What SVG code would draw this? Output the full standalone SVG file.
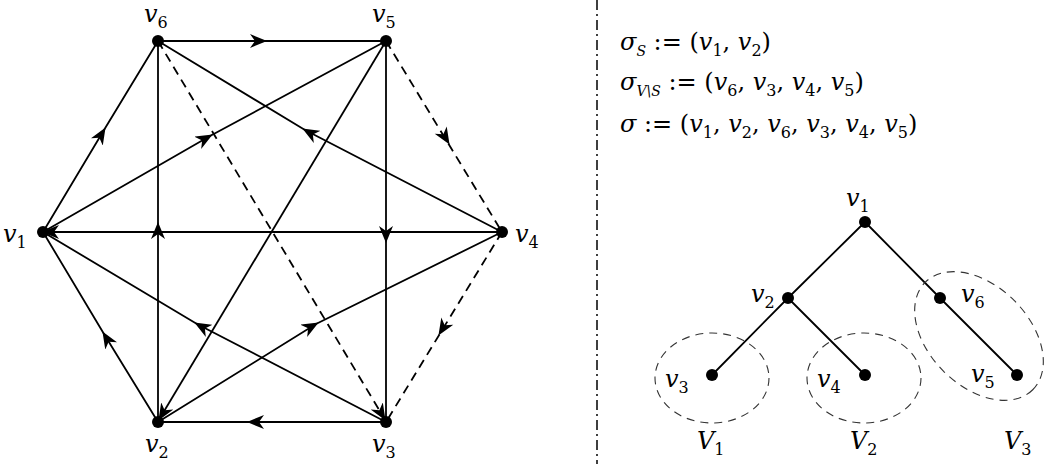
<svg xmlns="http://www.w3.org/2000/svg" width="1049" height="464" viewBox="0 0 1049 464">
<style>
.e{stroke:#000;stroke-width:1.8;fill:none}
.d{stroke-dasharray:9,6}
.m{marker-mid:url(#ah)}
.t{marker-end:url(#ah)}
text{font-family:"DejaVu Serif","Liberation Serif",serif;font-size:24px;font-style:italic}
.s{font-size:16px;font-style:normal}
.ss{font-size:14px;font-style:italic}
.n{font-style:normal}
.el{fill:none;stroke:#333;stroke-width:1.1;stroke-dasharray:8,6}
</style>
<defs>
<marker id="ah" markerWidth="20" markerHeight="14" refX="14" refY="7" orient="auto" markerUnits="userSpaceOnUse">
<path d="M0,0 L17,7 L0,14 L5,7 Z" fill="#000"/>
</marker>
</defs>
<rect width="1049" height="464" fill="#fff"/>
<g id="connectors">
<path class="e m" d="M158,41 L264,41 L386,41"/>
<path class="e m" d="M43,232 L104,130 L158,41"/>
<path class="e m" d="M158,422 L104,334 L43,232"/>
<path class="e m" d="M386,422 L250,422 L158,422"/>
<path class="e d" d="M386,41 L502,232"/>
<path class="e m" d="M158,422 L158,225 L158,41"/>
<path class="e m" d="M386,41 L386,240 L386,422"/>
<path class="e t" d="M502,232 L45,232"/>
<path class="e m" d="M43,232 L210,136 L386,41"/>
<path class="e m" d="M502,232 L305,130 L158,41"/>
<path class="e t" d="M386,41 L160,418"/>
<path class="e m" d="M386,422 L197,324 L43,232"/>
<path class="e m" d="M158,422 L316,324 L502,232"/>
<path class="e d t" d="M158,41 L384,418"/>
<path class="e d" d="M502,232 L386,422"/>
<path d="M0,0 L17,7 L0,14 L5,7 Z" transform="translate(448,142) rotate(58.7) translate(-14,-7)"/>
<path d="M0,0 L17,7 L0,14 L5,7 Z" transform="translate(440,333) rotate(121.4) translate(-14,-7)"/>
<path class="e" d="M597,0 L597,464" style="stroke-width:1.5;stroke-dasharray:10,4,2,4"/>
<path class="e" d="M865,222 L788,298 L712,375 M788,298 L865,375 M865,222 L940,298 L1017,375"/>
</g>
<g id="graph-nodes">
<g id="v6"><circle cx="158" cy="41" r="6"/><text x="144" y="22">v<tspan class="s" dy="6">6</tspan></text></g>
<g id="v5"><circle cx="386" cy="41" r="6"/><text x="372" y="22">v<tspan class="s" dy="6">5</tspan></text></g>
<g id="v1"><circle cx="43" cy="232" r="6"/><text x="3" y="242">v<tspan class="s" dy="6">1</tspan></text></g>
<g id="v4"><circle cx="502" cy="232" r="6"/><text x="515" y="242">v<tspan class="s" dy="6">4</tspan></text></g>
<g id="v2"><circle cx="158" cy="422" r="6"/><text x="145" y="452">v<tspan class="s" dy="6">2</tspan></text></g>
<g id="v3"><circle cx="386" cy="422" r="6"/><text x="372" y="452">v<tspan class="s" dy="6">3</tspan></text></g>
</g>
<g id="formulas">
<text x="620" y="50">σ<tspan class="s ss" dy="6">S</tspan><tspan dy="-6" class="n"> := (</tspan>v<tspan class="s" dy="6">1</tspan><tspan dy="-6" class="n">, </tspan>v<tspan class="s" dy="6">2</tspan><tspan dy="-6" class="n">)</tspan></text>
<text x="620" y="90">σ<tspan class="s ss" dy="6">V\S</tspan><tspan dy="-6" class="n"> := (</tspan>v<tspan class="s" dy="6">6</tspan><tspan dy="-6" class="n">, </tspan>v<tspan class="s" dy="6">3</tspan><tspan dy="-6" class="n">, </tspan>v<tspan class="s" dy="6">4</tspan><tspan dy="-6" class="n">, </tspan>v<tspan class="s" dy="6">5</tspan><tspan dy="-6" class="n">)</tspan></text>
<text x="620" y="132">σ<tspan class="n"> := (</tspan>v<tspan class="s" dy="6">1</tspan><tspan dy="-6" class="n">, </tspan>v<tspan class="s" dy="6">2</tspan><tspan dy="-6" class="n">, </tspan>v<tspan class="s" dy="6">6</tspan><tspan dy="-6" class="n">, </tspan>v<tspan class="s" dy="6">3</tspan><tspan dy="-6" class="n">, </tspan>v<tspan class="s" dy="6">4</tspan><tspan dy="-6" class="n">, </tspan>v<tspan class="s" dy="6">5</tspan><tspan dy="-6" class="n">)</tspan></text>
</g>
<g id="tree">
<g id="t-v1"><circle cx="865" cy="222" r="6"/><text x="846" y="206">v<tspan class="s" dy="6">1</tspan></text></g>
<g id="t-v2"><circle cx="788" cy="298" r="6"/><text x="751" y="302">v<tspan class="s" dy="6">2</tspan></text></g>
<g id="t-v6"><circle cx="940" cy="298" r="6"/><text x="961" y="302">v<tspan class="s" dy="6">6</tspan></text></g>
<g id="t-v3"><circle cx="712" cy="375" r="6"/><text x="665" y="387">v<tspan class="s" dy="6">3</tspan></text></g>
<g id="t-v4"><circle cx="865" cy="375" r="6"/><text x="817" y="387">v<tspan class="s" dy="6">4</tspan></text></g>
<g id="t-v5"><circle cx="1017" cy="375" r="6"/><text x="971" y="382">v<tspan class="s" dy="6">5</tspan></text></g>
<g id="V1"><ellipse class="el" cx="712" cy="378" rx="57" ry="45"/><text x="697" y="449">V<tspan class="s" dy="6">1</tspan></text></g>
<g id="V2"><ellipse class="el" cx="864" cy="378" rx="57" ry="45"/><text x="850" y="449">V<tspan class="s" dy="6">2</tspan></text></g>
<g id="V3"><ellipse class="el" cx="979" cy="336" rx="76" ry="50" transform="rotate(45 979 336)"/><text x="1004" y="449">V<tspan class="s" dy="6">3</tspan></text></g>
</g>
</svg>
